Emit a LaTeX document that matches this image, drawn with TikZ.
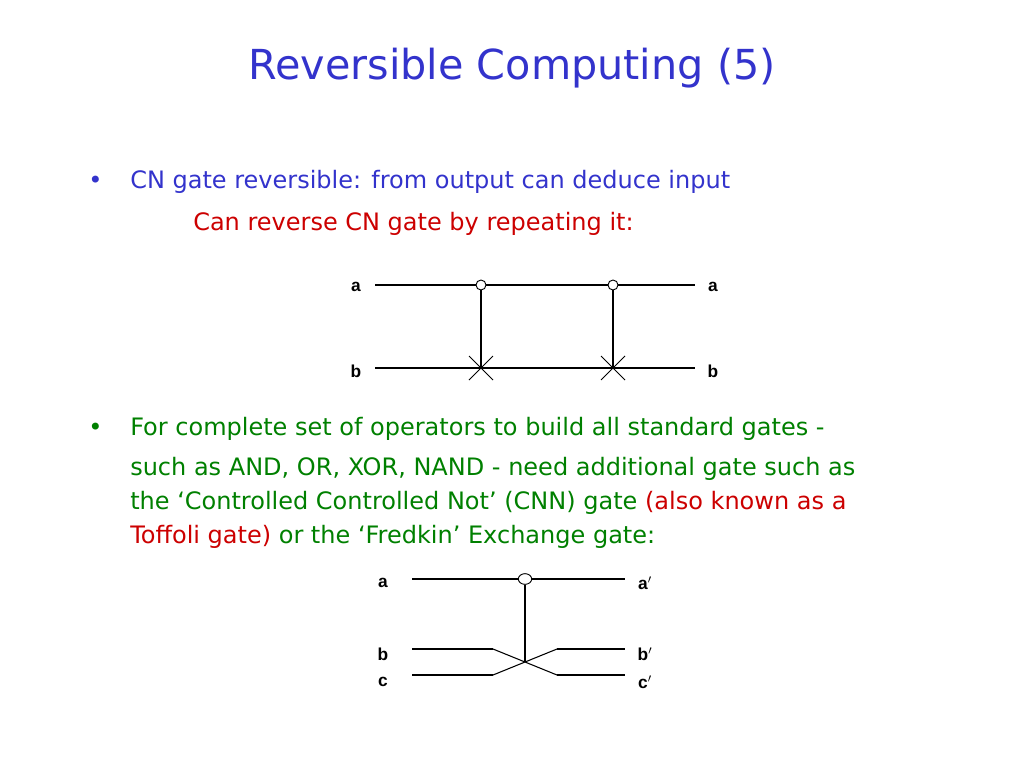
\documentclass[tikz,border=0pt]{standalone}
\usepackage{fontspec}
\usetikzlibrary{calc,shapes.geometric}
\setmainfont{DejaVu Sans}
\newfontfamily\labfont{Liberation Sans}
\definecolor{slideblue}{RGB}{51,51,204}
\definecolor{slidered}{RGB}{204,0,0}
\definecolor{slidegreen}{RGB}{0,128,0}

\begin{document}
\begin{tikzpicture}[
    x=0.75pt,y=-0.75pt,
    wire/.style={draw,line width=0.8pt},
    ctrl/.style={draw,fill=white,line width=0.7pt,circle,inner sep=0pt,minimum size=7.5pt},
    lab/.style={font=\labfont\bfseries\fontsize{13}{13}\selectfont},
    body/.style={anchor=base west,inner sep=0pt,font=\fontsize{18}{18}\selectfont}
]
\useasboundingbox (0,0) rectangle (1024,768);

% title and text
\node[font=\fontsize{31}{31}\selectfont,text=slideblue] (title) at (512,68) {Reversible Computing (5)};
\node[body,text=slideblue] (b1) at (88,188) {•};
\node[body,text=slideblue] (t1) at (130,188) {CN gate reversible: from output can deduce input};
\node[body,text=slidered] (t2) at (193,230) {Can reverse CN gate by repeating it:};
\node[body,text=slidegreen] (b2) at (88,435) {•};
\node[body,text=slidegreen] (t3) at (130,435) {For complete set of operators to build all standard gates -};
\node[body,text=slidegreen] (t4) at (130,475) {such as AND, OR, XOR, NAND - need additional gate such as};
\node[body,text=slidegreen] (t5) at (130,509) {the ‘Controlled Controlled Not’ (CNN) gate \textcolor{slidered}{(also known as a}};
\node[body,text=slidegreen] (t6) at (130,543) {\textcolor{slidered}{Toffoli gate)} or the ‘Fredkin’ Exchange gate:};

% CN gate twice
\node[lab] (a1) at (356,287) {a};
\node[lab] (a2) at (713,287) {a};
\node[lab] (b1l) at (356,371) {b};
\node[lab] (b2l) at (713,371) {b};
\coordinate (aw) at (375,285); \coordinate (ae) at (695,285);
\coordinate (bw) at (375,368); \coordinate (be) at (695,368);
\draw[wire] (aw) -- (ae);
\draw[wire] (bw) -- (be);
\foreach \i/\x in {1/481,2/613} {
    \coordinate (x\i) at (\x,368);
    \node[ctrl] (c\i) at (\x,285) {};
    \draw[wire] (c\i) -- (x\i);
    \draw[line width=0.7pt] ($(x\i)+(-12,-12)$) -- ($(x\i)+(12,12)$)
        ($(x\i)+(-12,12)$) -- ($(x\i)+(12,-12)$);
}

% Fredkin gate
\node[lab] (fa) at (383,583) {a};
\node[lab] (fa2) at (645,583) {a$'$};
\node[lab] (fb) at (383,654) {b};
\node[lab] (fb2) at (645,654) {b$'$};
\node[lab] (fc) at (383,682) {c};
\node[lab] (fc2) at (645,682) {c$'$};
\node[ctrl,ellipse,minimum width=10pt,minimum height=8pt] (fk) at (525,579) {};
\coordinate (faw) at (412,579); \coordinate (fae) at (625,579);
\coordinate (fbw) at (412,649); \coordinate (fbm) at (493,649);
\coordinate (fcw) at (412,675); \coordinate (fcm) at (493,675);
\coordinate (fbm2) at (557,649); \coordinate (fbe) at (625,649);
\coordinate (fcm2) at (557,675); \coordinate (fce) at (625,675);
\coordinate (fx) at (525,662);
\draw[wire] (faw) -- (fk) -- (fae);
\draw[wire] (fk) -- (fx);
\draw[wire] (fbw) -- (fbm) (fbm2) -- (fbe) (fcw) -- (fcm) (fcm2) -- (fce);
\draw[wire] (fbm) -- (fcm2) (fcm) -- (fbm2);
\end{tikzpicture}
\end{document}
